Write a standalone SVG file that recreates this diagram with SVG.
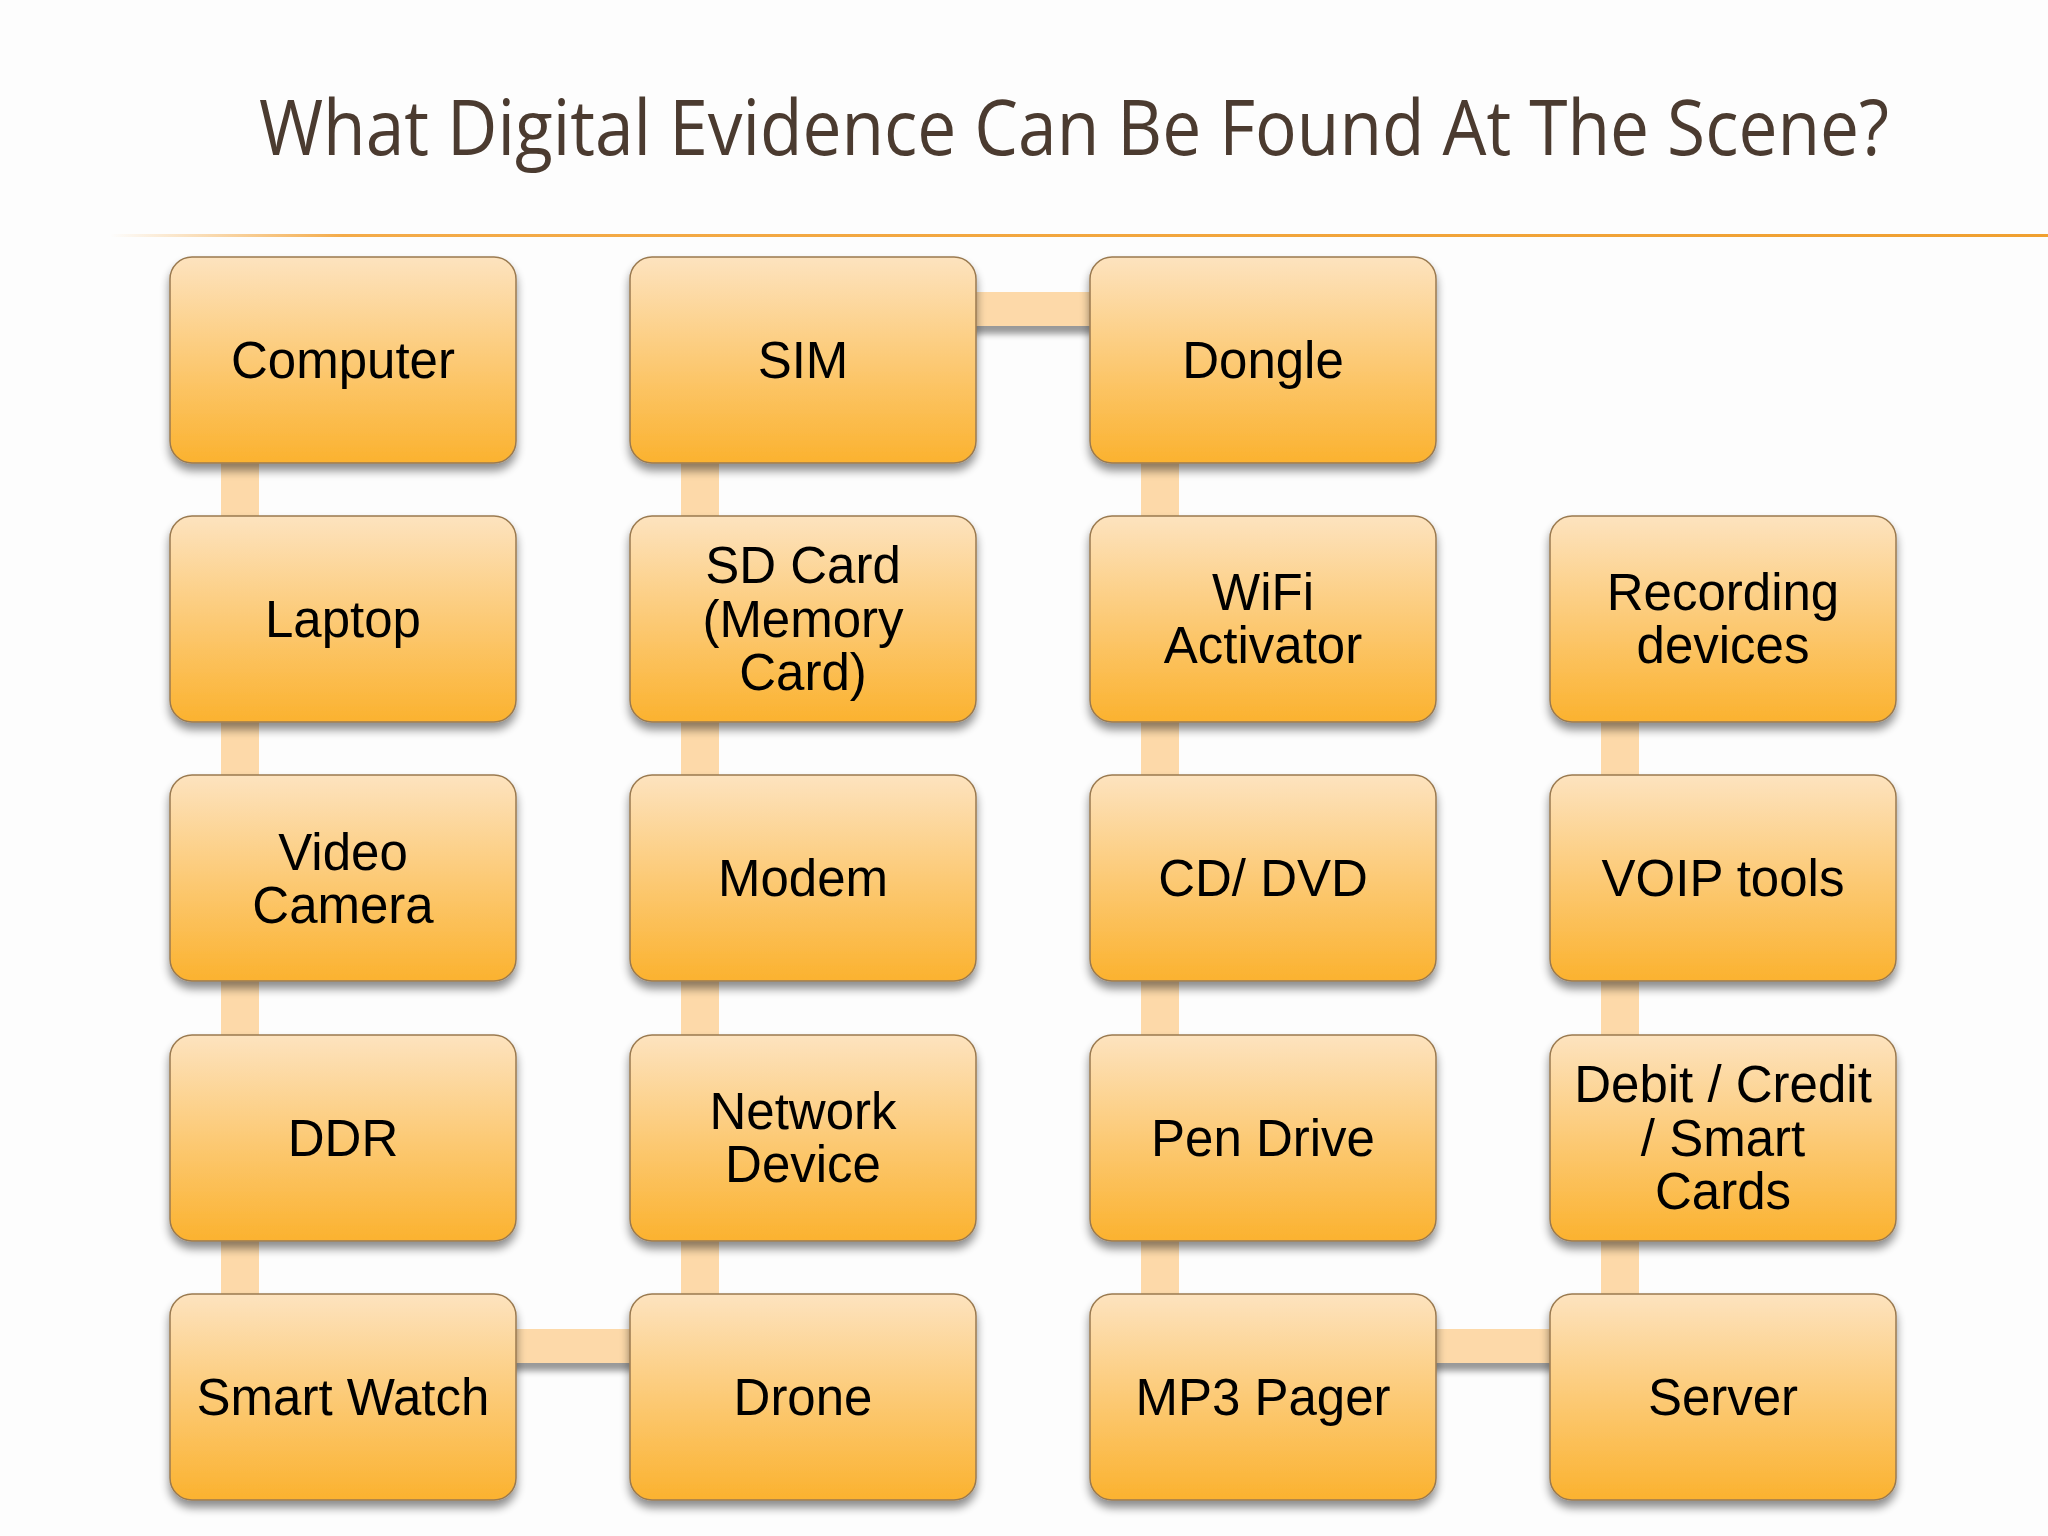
<svg xmlns="http://www.w3.org/2000/svg" width="2048" height="1536" viewBox="0 0 2048 1536">
<defs>
<linearGradient id="boxFill" x1="0" y1="0" x2="0" y2="1">
<stop offset="0" stop-color="#fde3bf"/>
<stop offset="0.5" stop-color="#fcca76"/>
<stop offset="1" stop-color="#fbb22f"/>
</linearGradient>
<linearGradient id="rule" x1="0" y1="0" x2="1" y2="0">
<stop offset="0" stop-color="#f3a235" stop-opacity="0"/>
<stop offset="0.12" stop-color="#f3a235" stop-opacity="0.9"/>
<stop offset="1" stop-color="#f0a030"/>
</linearGradient>
<filter id="shadow" x="-10%" y="-10%" width="120%" height="130%">
<feGaussianBlur in="SourceAlpha" stdDeviation="5"/>
<feOffset dx="0" dy="7" result="b"/>
<feComponentTransfer><feFuncA type="linear" slope="0.45"/></feComponentTransfer>
<feMerge><feMergeNode/><feMergeNode in="SourceGraphic"/></feMerge>
</filter>
<filter id="cshadow" x="-10%" y="-30%" width="120%" height="190%">
<feGaussianBlur in="SourceAlpha" stdDeviation="3"/>
<feOffset dx="0" dy="8" result="b"/>
<feComponentTransfer><feFuncA type="linear" slope="0.4"/></feComponentTransfer>
<feMerge><feMergeNode/><feMergeNode in="SourceGraphic"/></feMerge>
</filter>
</defs>
<style>
.box{fill:url(#boxFill);stroke:#9a7a50;stroke-width:1.5;filter:url(#shadow)}
.lbl{font-family:"Liberation Sans",Arial,sans-serif;font-size:51px;fill:#000;text-anchor:middle}
.vc{fill:#fdd9a9}
.hc{fill:#fdd9a9;filter:url(#cshadow)}
.title{font-family:"Open Sans","Noto Sans",sans-serif;font-size:76px;fill:#4b3b30}
</style>
<rect x="0" y="0" width="2048" height="1536" fill="#fdfdfd"/>
<text class="title" x="259" y="155" textLength="1630" lengthAdjust="spacingAndGlyphs">What Digital Evidence Can Be Found At The Scene?</text>
<rect x="110" y="234" width="1938" height="3" fill="url(#rule)"/>

<g id="connectors">
<rect class="vc" x="221" y="460" width="38" height="60"/>
<rect class="vc" x="221" y="719" width="38" height="60"/>
<rect class="vc" x="221" y="978" width="38" height="60"/>
<rect class="vc" x="221" y="1238" width="38" height="60"/>
<rect class="vc" x="681" y="460" width="38" height="60"/>
<rect class="vc" x="681" y="719" width="38" height="60"/>
<rect class="vc" x="681" y="978" width="38" height="60"/>
<rect class="vc" x="681" y="1238" width="38" height="60"/>
<rect class="vc" x="1141" y="460" width="38" height="60"/>
<rect class="vc" x="1141" y="719" width="38" height="60"/>
<rect class="vc" x="1141" y="978" width="38" height="60"/>
<rect class="vc" x="1141" y="1238" width="38" height="60"/>
<rect class="vc" x="1601" y="719" width="38" height="60"/>
<rect class="vc" x="1601" y="978" width="38" height="60"/>
<rect class="vc" x="1601" y="1238" width="38" height="60"/>
<rect class="hc" x="512" y="1329" width="122" height="34"/>
<rect class="hc" x="972" y="292" width="122" height="34"/>
<rect class="hc" x="1432" y="1329" width="122" height="34"/>
</g>

<g id="computer"><rect class="box" x="170" y="257" width="346" height="206" rx="22"/><text class="lbl" x="343" y="378">Computer</text></g>
<g id="laptop"><rect class="box" x="170" y="516" width="346" height="206" rx="22"/><text class="lbl" x="343" y="637">Laptop</text></g>
<g id="video-camera"><rect class="box" x="170" y="775" width="346" height="206" rx="22"/><text class="lbl" x="343" y="870">Video</text><text class="lbl" x="343" y="923">Camera</text></g>
<g id="ddr"><rect class="box" x="170" y="1035" width="346" height="206" rx="22"/><text class="lbl" x="343" y="1156">DDR</text></g>
<g id="smart-watch"><rect class="box" x="170" y="1294" width="346" height="206" rx="22"/><text class="lbl" x="343" y="1415">Smart Watch</text></g>

<g id="sim"><rect class="box" x="630" y="257" width="346" height="206" rx="22"/><text class="lbl" x="803" y="378">SIM</text></g>
<g id="sd-card"><rect class="box" x="630" y="516" width="346" height="206" rx="22"/><text class="lbl" x="803" y="583">SD Card</text><text class="lbl" x="803" y="637">(Memory</text><text class="lbl" x="803" y="690">Card)</text></g>
<g id="modem"><rect class="box" x="630" y="775" width="346" height="206" rx="22"/><text class="lbl" x="803" y="896">Modem</text></g>
<g id="network-device"><rect class="box" x="630" y="1035" width="346" height="206" rx="22"/><text class="lbl" x="803" y="1129">Network</text><text class="lbl" x="803" y="1182">Device</text></g>
<g id="drone"><rect class="box" x="630" y="1294" width="346" height="206" rx="22"/><text class="lbl" x="803" y="1415">Drone</text></g>

<g id="dongle"><rect class="box" x="1090" y="257" width="346" height="206" rx="22"/><text class="lbl" x="1263" y="378">Dongle</text></g>
<g id="wifi-activator"><rect class="box" x="1090" y="516" width="346" height="206" rx="22"/><text class="lbl" x="1263" y="610">WiFi</text><text class="lbl" x="1263" y="663">Activator</text></g>
<g id="cd-dvd"><rect class="box" x="1090" y="775" width="346" height="206" rx="22"/><text class="lbl" x="1263" y="896">CD/ DVD</text></g>
<g id="pen-drive"><rect class="box" x="1090" y="1035" width="346" height="206" rx="22"/><text class="lbl" x="1263" y="1156">Pen Drive</text></g>
<g id="mp3-pager"><rect class="box" x="1090" y="1294" width="346" height="206" rx="22"/><text class="lbl" x="1263" y="1415">MP3 Pager</text></g>

<g id="recording-devices"><rect class="box" x="1550" y="516" width="346" height="206" rx="22"/><text class="lbl" x="1723" y="610">Recording</text><text class="lbl" x="1723" y="663">devices</text></g>
<g id="voip-tools"><rect class="box" x="1550" y="775" width="346" height="206" rx="22"/><text class="lbl" x="1723" y="896">VOIP tools</text></g>
<g id="debit-credit-smart-cards"><rect class="box" x="1550" y="1035" width="346" height="206" rx="22"/><text class="lbl" x="1723" y="1102">Debit / Credit</text><text class="lbl" x="1723" y="1156">/ Smart</text><text class="lbl" x="1723" y="1209">Cards</text></g>
<g id="server"><rect class="box" x="1550" y="1294" width="346" height="206" rx="22"/><text class="lbl" x="1723" y="1415">Server</text></g>
</svg>
